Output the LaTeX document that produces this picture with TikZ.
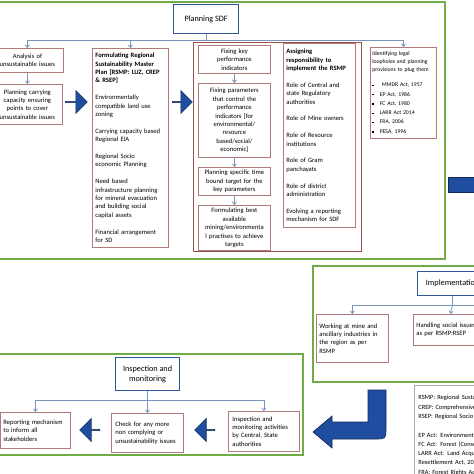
\documentclass[tikz,border=0pt]{standalone}
\usepackage{fontspec}
\setmainfont{Carlito}
\usetikzlibrary{arrows.meta,shapes.arrows}

\definecolor{framegreen}{RGB}{112,173,71}
\definecolor{boxred}{RGB}{176,122,122}
\definecolor{darkred}{RGB}{150,80,80}
\definecolor{headblue}{RGB}{47,85,151}
\definecolor{linkblue}{RGB}{120,150,185}
\definecolor{arrowblue}{RGB}{31,78,160}
\definecolor{arrowedge}{RGB}{22,40,90}
\definecolor{legendgray}{RGB}{170,170,170}

\newcommand{\boxfont}{\fontsize{6.6}{8.4}\selectfont}
\newcommand{\legalfont}{\fontsize{5.7}{8}\selectfont}
\newcommand{\headfont}{\fontsize{8.2}{9.8}\selectfont}
\newcommand{\legalitem}{\rule[0.6pt]{1.4pt}{1.4pt}\hspace{6pt}}

\tikzset{
  frame/.style={draw=framegreen, line width=1.2pt},
  box/.style={draw=boxred, line width=0.8pt, anchor=north west,
              inner xsep=3pt, inner ysep=1pt, font=\boxfont},
  headbox/.style={draw=headblue, line width=1.2pt, inner sep=1pt,
                  align=center, font=\headfont},
  arrowbody/.style={draw=arrowedge, fill=arrowblue, line width=0.6pt},
  blockarrow/.style={arrowbody, single arrow, inner sep=0pt,
                     minimum width=23pt, single arrow head extend=5pt,
                     anchor=tail},
}

\begin{document}
\begin{tikzpicture}[x=1pt,y=-1pt]
	\clip (0,0) rectangle (474,474);
	\fill[white] (0,0) rectangle (474,474);

	% green frames
	\draw[frame] (-2,2) rectangle (445,259);
	\draw[frame] (313,266) rectangle (480,382);
	\draw[frame] (-2,354) rectangle (303,455);

	\begin{scope}[every node/.style={box}]
	    % planning
	    \node[headbox, anchor=north west, minimum width=65pt, minimum height=29pt] (sdf) at (173,4) {Planning SDF};
	    \node[align=center, text width=66pt, minimum width=72pt, minimum height=24pt] (analysis) at (-9,48)
	        {Analysis of\\unsustainable issues};
	    \node[align=center, text width=64pt, minimum width=70pt, minimum height=40pt] (carrying) at (-8,84)
	        {Planning carrying\\capacity ensuring\\points to cover\\unsustainable issues};
	    \node[align=left, text width=70pt, minimum width=76pt, minimum height=199pt] (rsmp) at (92,48)
	        {{\bfseries Formulating Regional\\Sustainability Master\\Plan [RSMP: LUZ, CREP\\\& RSEP]}\\[8.4pt]
	         Environmentally\\compatible land use\\zoning\\[8.4pt]
	         Carrying capacity based\\Regional EIA\\[8.4pt]
	         Regional Socio\\economic Planning\\[8.4pt]
	         Need based\\infrastructure planning\\for mineral evacuation\\and building social\\capital assets\\[8.4pt]
	         Financial arrangement\\for SD};
	    \node[draw=darkred, line width=1.2pt, minimum width=168pt, minimum height=209pt] (kpiframe) at (193,42) {};
	    \node[align=center, text width=66pt, minimum width=72pt, minimum height=28pt] (kpi) at (198,45)
	        {Fixing key\\performance\\indicators};
	    \node[align=center, text width=66pt, minimum width=72pt, minimum height=74pt] (params) at (198,83)
	        {Fixing parameters\\that control the\\performance\\indicators [for\\environmental/\\resource\\based/social/\\economic]};
	    \node[align=center, text width=66pt, minimum width=72pt, minimum height=28pt] (target) at (198,167)
	        {Planning specific time\\bound target for the\\key parameters};
	    \node[align=center, text width=66pt, minimum width=72pt, minimum height=45pt] (practices) at (198,205)
	        {Formulating best\\available\\mining/environmenta\\l practises to achieve\\targets};
	    \node[align=left, text width=66pt, minimum width=72pt, minimum height=184pt] (assign) at (283,43)
	        {{\bfseries Assigning\\responsibility to\\implement the RSMP}\\[8.4pt]
	         Role of Central and\\state Regulatory\\authorities\\[8.4pt]
	         Role of Mine owners\\[8.4pt]
	         Role of Resource\\institutions\\[8.4pt]
	         Role of Gram\\panchayats\\[8.4pt]
	         Role of district\\administration\\[8.4pt]
	         Evolving a reporting\\mechanism for SDF};
	    \node[align=left, font=\legalfont, text width=62pt, inner xsep=2pt, minimum width=64pt, minimum height=91pt] (legal) at (370,47)
	        {Identifying legal\\loopholes and planning\\provisions to plug them\\[7pt]
	         \legalitem\hspace{2pt}MMDR Act, 1957\\[1.3pt]
	         \legalitem EP Act, 1986\\[1.3pt]
	         \legalitem FC Act, 1980\\[1.3pt]
	         \legalitem LARR Act 2014\\[1.3pt]
	         \legalitem FRA, 2006\\[1.3pt]
	         \legalitem PESA, 1996};

	    % implementation
	    \node[headbox, anchor=north west, minimum width=70pt, minimum height=24pt] (impl) at (417,271) {Implementation};
	    \node[align=left, text width=66pt, minimum width=72pt, minimum height=48pt] (working) at (316,314)
	        {Working at mine and\\ancillary industries in\\the region as per\\RSMP};
	    \node[align=left, text width=68pt, minimum width=74pt, minimum height=31pt] (handling) at (413,314)
	        {Handling social issues\\as per RSMP:RSEP};
	    \node[draw=legendgray, align=left, text width=170pt, minimum height=100pt, inner xsep=4pt, inner ysep=4pt,
	          font=\fontsize{6.4}{9.3}\selectfont] (legend) at (414,385)
	        {RSMP: Regional Sustainability Master Plan\\
	         CREP: Comprehensive Regional Environmental Plan\\
	         RSEP: Regional Socio Economic Plan\\[9.3pt]
	         EP Act: Environment (Protection) Act\\
	         FC Act: Forest (Conservation) Act\\
	         LARR Act: Land Acquisition, Rehabilitation and\\
	         Resettlement Act, 2013\\
	         FRA: Forest Rights Act};

	    % inspection
	    \node[headbox, anchor=north west, minimum width=64pt, minimum height=33pt] (insp) at (115,357)
	        {Inspection and\\monitoring};
	    \node[align=left, text width=64pt, minimum width=70pt, minimum height=36pt] (report) at (0,412)
	        {Reporting mechanism\\to inform all\\stakeholders};
	    \node[align=left, text width=64pt, minimum width=72pt, minimum height=39pt, inner xsep=4pt] (check) at (111,413)
	        {Check for any more\\non complying or\\unsustainability issues};
	    \node[align=left, text width=63pt, minimum width=71pt, minimum height=40pt, inner xsep=4pt] (activities) at (228,411)
	        {Inspection and\\monitoring activities\\by Central, State\\authorities};
	\end{scope}

	% block arrows
	\node[blockarrow, minimum height=22pt] (arrowA) at (65,102) {};
	\node[blockarrow, minimum height=20pt] (arrowB) at (172,102) {};
	\node[blockarrow, minimum height=20pt, shape border rotate=180] (arrowC) at (100,430) {};
	\node[blockarrow, minimum height=20pt, shape border rotate=180] (arrowD) at (215,430) {};
	\filldraw[arrowbody] (448,177) rectangle (480,192);
	\filldraw[arrowbody] (368,390) -- (386,390) -- (386,428) .. controls (386,439) .. (375,439)
	    -- (332,439) -- (332,448) -- (313,432) -- (332,416) -- (332,422) -- (368,422) -- cycle;

	\begin{scope}[>={Straight Barb[length=2.5pt,width=4pt]},
	              every edge/.style={draw=linkblue, line width=0.8pt}]
	    \coordinate (topbus) at (sdf.south |- 0,40);
	    \path (sdf.south) edge (topbus);
	    \path (analysis.north |- topbus) edge (legal.north |- topbus);
	    \path (analysis.north |- topbus) edge[->] (analysis.north);
	    \path (rsmp.north |- topbus) edge[->] (rsmp.north);
	    \path (legal.north |- topbus) edge[->] (legal.north);
	    \path (analysis) edge[->] (carrying);
	    \path (kpi) edge[->] (params);
	    \path (params) edge[->] (target);
	    \path (target) edge[->] (practices);

	    \coordinate (implbus) at (impl.south |- 0,305);
	    \coordinate (implend) at (480,305);
	    \path (impl.south) edge (implbus);
	    \path (working.north |- implbus) edge (implend);
	    \path (working.north |- implbus) edge[->] (working.north);
	    \path (implbus) edge[->] (handling.north);

	    \coordinate (inspbus) at (insp.south |- 0,400);
	    \path (insp.south) edge (inspbus);
	    \path (report.north |- inspbus) edge (activities.north |- inspbus);
	    \path (report.north |- inspbus) edge[->] (report.north);
	    \path (inspbus) edge[->] (check.north);
	    \path (activities.north |- inspbus) edge[->] (activities.north);
	\end{scope}
\end{tikzpicture}
\end{document}
